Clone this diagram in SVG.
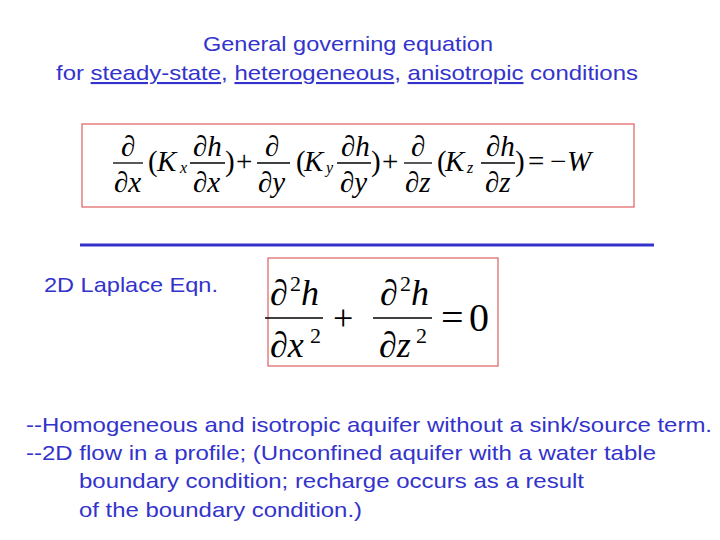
<svg xmlns="http://www.w3.org/2000/svg" width="720" height="540" viewBox="0 0 720 540">
<style>
.t{font-family:"Liberation Sans",Arial,sans-serif;font-size:21px;fill:#3333cc}
.m{font-family:"Liberation Serif","Times New Roman",serif;fill:#000}
.i{font-style:italic}
.b{stroke:#000;stroke-width:1.3}
</style>
<rect width="720" height="540" fill="#fff"/>
<text class="t" x="348" y="51" text-anchor="middle" textLength="290" lengthAdjust="spacingAndGlyphs">General governing equation</text>
<text class="t" x="347" y="80" text-anchor="middle" textLength="582" lengthAdjust="spacingAndGlyphs">for <tspan text-decoration="underline">steady-state</tspan>, <tspan text-decoration="underline">heterogeneous</tspan>, <tspan text-decoration="underline">anisotropic</tspan> conditions</text>
<g id="eq1">
<rect x="82" y="124" width="552" height="83" fill="none" stroke="#e06060" stroke-width="1.2"/>
<g class="m" font-size="29">
<text x="121" y="156">∂</text>
<line class="b" x1="113" y1="163" x2="143" y2="163"/>
<text x="114" y="192">∂<tspan class="i">x</tspan></text>
<text x="148" y="171">(<tspan x="157" class="i">K</tspan><tspan x="180" dy="2" font-size="16" class="i">x</tspan></text>
<text x="193" y="156">∂<tspan class="i">h</tspan></text>
<line class="b" x1="190" y1="163" x2="225" y2="163"/>
<text x="193" y="192">∂<tspan class="i">x</tspan></text>
<text x="225" y="171">)<tspan x="236">+</tspan></text>
<text x="265" y="156">∂</text>
<line class="b" x1="257" y1="163" x2="290" y2="163"/>
<text x="258" y="192">∂<tspan class="i">y</tspan></text>
<text x="296" y="171">(<tspan x="304" class="i">K</tspan><tspan x="326" dy="2" font-size="16" class="i">y</tspan></text>
<text x="341" y="156">∂<tspan class="i">h</tspan></text>
<line class="b" x1="337" y1="163" x2="371" y2="163"/>
<text x="340" y="192">∂<tspan class="i">y</tspan></text>
<text x="371" y="171">)<tspan x="382">+</tspan></text>
<text x="411" y="156">∂</text>
<line class="b" x1="404" y1="163" x2="432" y2="163"/>
<text x="405" y="192">∂<tspan class="i">z</tspan></text>
<text x="437" y="171">(<tspan x="445" class="i">K</tspan><tspan x="467" dy="2" font-size="16" class="i">z</tspan></text>
<text x="486" y="156">∂<tspan class="i">h</tspan></text>
<line class="b" x1="481" y1="163" x2="515" y2="163"/>
<text x="485" y="192">∂<tspan class="i">z</tspan></text>
<text x="515" y="171">)<tspan x="528">=</tspan><tspan x="550">−</tspan><tspan x="567" class="i">W</tspan></text>
</g>
</g>
<line x1="80" y1="245" x2="654" y2="245" stroke="#3333cc" stroke-width="3"/>
<text class="t" x="44" y="292" textLength="174" lengthAdjust="spacingAndGlyphs">2D Laplace Eqn.</text>
<g id="eq2">
<rect x="268" y="258" width="230" height="108" fill="none" stroke="#e06060" stroke-width="1.2"/>
<g class="m" font-size="36">
<text x="270" y="305">∂<tspan x="290" dy="-14" font-size="22">2</tspan><tspan x="301" dy="14" class="i">h</tspan></text>
<line class="b" x1="265" y1="318" x2="323" y2="318"/>
<text x="270" y="357">∂<tspan class="i">x</tspan><tspan x="310" dy="-14" font-size="22">2</tspan></text>
<text x="333" y="330">+</text>
<text x="380" y="305">∂<tspan x="400" dy="-14" font-size="22">2</tspan><tspan x="411" dy="14" class="i">h</tspan></text>
<line class="b" x1="373" y1="318" x2="432" y2="318"/>
<text x="379" y="357">∂<tspan class="i">z</tspan><tspan x="416" dy="-14" font-size="22">2</tspan></text>
<text x="441" y="331" font-size="40">=<tspan x="469">0</tspan></text>
</g>
</g>
<text class="t" x="26" y="432" textLength="686" lengthAdjust="spacingAndGlyphs">--Homogeneous and isotropic aquifer without a sink/source term.</text>
<text class="t" x="26" y="460" textLength="630" lengthAdjust="spacingAndGlyphs">--2D flow in a profile; (Unconfined aquifer with a water table</text>
<text class="t" x="79" y="488" textLength="505" lengthAdjust="spacingAndGlyphs">boundary condition; recharge occurs as a result</text>
<text class="t" x="79" y="517" textLength="283" lengthAdjust="spacingAndGlyphs">of the boundary condition.)</text>
</svg>
